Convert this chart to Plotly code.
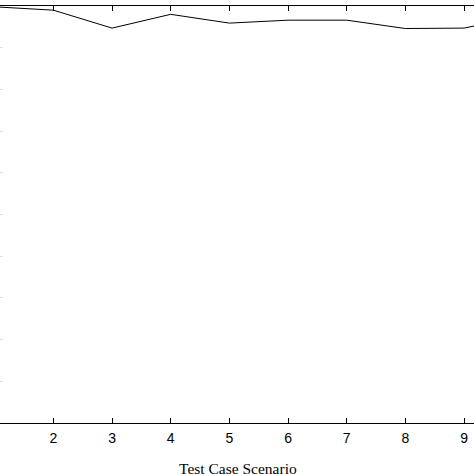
import plotly.graph_objects as go

# cenários de teste e valores
cenarios = [1, 2, 3, 4, 5, 6, 7, 8, 9, 10]
valores = [99.8, 99.0, 94.7, 98.0, 95.9, 96.6, 96.6, 94.6, 94.7, 97.6]

ticks_x = [2, 3, 4, 5, 6, 7, 8, 9]
ticks_y = [0, 10, 20, 30, 40, 50, 60, 70, 80, 90, 100]

fig = go.Figure()
fig.add_trace(go.Scatter(
    x=cenarios, y=valores,
    mode='lines',
    line=dict(color='black', width=1),
    hoverinfo='skip'
))

fig.update_layout(
    width=474, height=474,
    margin=dict(l=0, r=0, t=6, b=51),
    paper_bgcolor='white', plot_bgcolor='white',
    showlegend=False,
    font=dict(family='Liberation Sans, Arial, sans-serif', size=14, color='black'),
    xaxis=dict(
        range=[1.09, 9.17],
        tickvals=ticks_x,
        ticks='inside', ticklen=5, tickcolor='black', tickwidth=1,
        showline=True, linecolor='black', linewidth=1,
        mirror='allticks',
        ticklabelstandoff=2,
        showgrid=False, zeroline=False,
    ),
    yaxis=dict(
        range=[0, 100],
        tickvals=ticks_y,
        ticks='inside', ticklen=3, tickcolor='#dddddd',
        showticklabels=False,
        showline=False, showgrid=False, zeroline=False,
    ),
    annotations=[dict(
        text='Test Case Scenario',
        xref='paper', yref='paper',
        x=238 / 474, y=0,
        xanchor='center', yanchor='middle',
        yshift=-45,
        showarrow=False,
        font=dict(family='Liberation Serif, Times New Roman, serif', size=15.5, color='black'),
    )],
)

# sem margem na página, o gráfico fica no canto
fig.write_html("out.html", config={'displayModeBar': False},
               post_script="document.body.style.margin='0';")
